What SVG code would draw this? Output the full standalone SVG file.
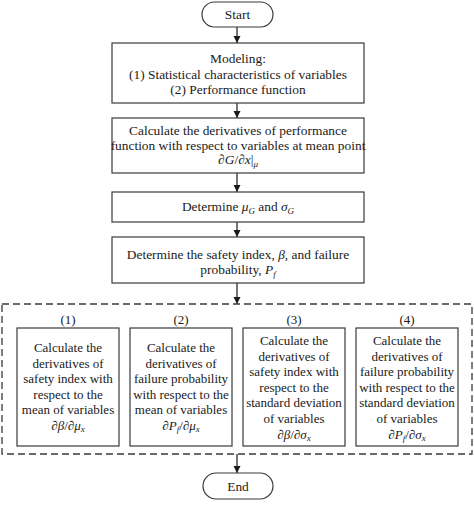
<svg xmlns="http://www.w3.org/2000/svg" width="474" height="513" viewBox="0 0 474 513">
<defs>
<marker id="arr" viewBox="0 0 10 10" refX="10" refY="5" markerWidth="7" markerHeight="9" markerUnits="userSpaceOnUse" orient="auto">
<path d="M0,0 L10,5 L0,10 Z" fill="#1a1a1a"/>
</marker>
</defs>
<style>
.box{fill:#fff;stroke:#3a3a3a;stroke-width:1.2}
.dash{fill:none;stroke:#3a3a3a;stroke-width:1.3;stroke-dasharray:7,4}
.t{font-family:"Liberation Serif","Times New Roman",serif;font-size:13.4px;fill:#1a1a1a;text-anchor:middle}
.s{font-family:"Liberation Serif","Times New Roman",serif;font-size:13px;fill:#1a1a1a;text-anchor:middle}
.i{font-style:italic}
.sub{font-style:italic;font-size:9px}
.cap{font-family:"Liberation Serif","Times New Roman",serif;font-size:11px;font-weight:bold;fill:#1a1a1a}
.c{stroke:#1a1a1a;stroke-width:1.2;fill:none;marker-end:url(#arr)}
</style>
<rect width="474" height="513" fill="#fff"/>
<g id="connectors">
<line class="c" x1="237" y1="27" x2="237" y2="43"/>
<line class="c" x1="237" y1="103" x2="237" y2="118"/>
<line class="c" x1="237" y1="173" x2="237" y2="192"/>
<line class="c" x1="237" y1="222" x2="237" y2="237"/>
<line class="c" x1="237" y1="283" x2="237" y2="304"/>
<line class="c" x1="237" y1="454" x2="237" y2="473"/>
</g>
<g id="start">
<rect class="box" x="202" y="2" width="71" height="25" rx="12.5"/>
<text class="t" x="237.5" y="19">Start</text>
</g>
<g id="modeling">
<rect class="box" x="112" y="43" width="252" height="60"/>
<text class="t" x="238" y="62.5">Modeling:</text>
<text class="t" x="238" y="78.5">(1) Statistical characteristics of variables</text>
<text class="t" x="238" y="94">(2) Performance function</text>
</g>
<g id="derivG">
<rect class="box" x="112" y="118" width="252" height="55"/>
<text class="t" x="238" y="135">Calculate the derivatives of performance</text>
<text class="t" x="238" y="149.5">function with respect to variables at mean point</text>
<text class="t" x="238" y="164"><tspan class="i">∂G</tspan>/<tspan class="i">∂x</tspan>|<tspan class="sub" dy="3">μ</tspan></text>
</g>
<g id="muSigma">
<rect class="box" x="112" y="192" width="252" height="30"/>
<text class="t" x="238" y="211">Determine <tspan class="i">μ</tspan><tspan class="sub" dy="3">G</tspan><tspan dy="-3"> and </tspan><tspan class="i">σ</tspan><tspan class="sub" dy="3">G</tspan></text>
</g>
<g id="safety">
<rect class="box" x="112" y="237" width="252" height="46"/>
<text class="t" x="238" y="259">Determine the safety index, <tspan class="i">β</tspan>, and failure</text>
<text class="t" x="238" y="274">probability, <tspan class="i">P</tspan><tspan class="sub" dy="3">f</tspan></text>
</g>
<g id="group">
<rect class="dash" x="2" y="304" width="470" height="150"/>
</g>
<g id="sub1">
<text class="s" x="68" y="324">(1)</text>
<rect class="box" x="17" y="328" width="102" height="118"/>
<text class="s" x="68" y="352">Calculate the</text>
<text class="s" x="68" y="367.5">derivatives of</text>
<text class="s" x="68" y="383">safety index with</text>
<text class="s" x="68" y="398.5">respect to the</text>
<text class="s" x="68" y="414">mean of variables</text>
<text class="s" x="68" y="430"><tspan class="i">∂β</tspan>/<tspan class="i">∂μ</tspan><tspan class="sub" dy="2">x</tspan></text>
</g>
<g id="sub2">
<text class="s" x="181" y="324">(2)</text>
<rect class="box" x="130" y="328" width="102" height="118"/>
<text class="s" x="181" y="352">Calculate the</text>
<text class="s" x="181" y="367.5">derivatives of</text>
<text class="s" x="181" y="383">failure probability</text>
<text class="s" x="181" y="398.5">with respect to the</text>
<text class="s" x="181" y="414">mean of variables</text>
<text class="s" x="181" y="430"><tspan class="i">∂P</tspan><tspan class="sub" dy="2">f</tspan><tspan dy="-2">/</tspan><tspan class="i">∂μ</tspan><tspan class="sub" dy="2">x</tspan></text>
</g>
<g id="sub3">
<text class="s" x="294" y="324">(3)</text>
<rect class="box" x="243" y="328" width="102" height="118"/>
<text class="s" x="294" y="345">Calculate the</text>
<text class="s" x="294" y="360.5">derivatives of</text>
<text class="s" x="294" y="376">safety index with</text>
<text class="s" x="294" y="391.5">respect to the</text>
<text class="s" x="294" y="407">standard deviation</text>
<text class="s" x="294" y="422.5">of variables</text>
<text class="s" x="294" y="438.5"><tspan class="i">∂β</tspan>/<tspan class="i">∂σ</tspan><tspan class="sub" dy="2">x</tspan></text>
</g>
<g id="sub4">
<text class="s" x="407" y="324">(4)</text>
<rect class="box" x="356" y="328" width="102" height="118"/>
<text class="s" x="407" y="345">Calculate the</text>
<text class="s" x="407" y="360.5">derivatives of</text>
<text class="s" x="407" y="376">failure probability</text>
<text class="s" x="407" y="391.5">with respect to the</text>
<text class="s" x="407" y="407">standard deviation</text>
<text class="s" x="407" y="422.5">of variables</text>
<text class="s" x="407" y="438.5"><tspan class="i">∂P</tspan><tspan class="sub" dy="2">f</tspan><tspan dy="-2">/</tspan><tspan class="i">∂σ</tspan><tspan class="sub" dy="2">x</tspan></text>
</g>
<g id="end">
<rect class="box" x="203" y="473" width="70" height="26" rx="13"/>
<text class="t" x="238" y="491">End</text>
</g>
<text class="cap" x="0" y="520">Fig. 1 Schematic chart of proposed algorithm</text>
</svg>
